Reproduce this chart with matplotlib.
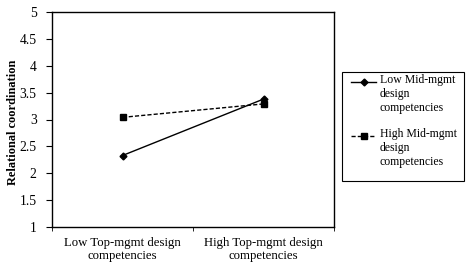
import matplotlib
matplotlib.use("Agg")
import matplotlib.pyplot as plt
from matplotlib.lines import Line2D
from matplotlib.patches import Rectangle

categories = ["Low Top-mgmt design\ncompetencies", "High Top-mgmt design\ncompetencies"]
low_mid = [2.33, 3.38]
high_mid = [3.04, 3.29]
series_labels = ["Low Mid-mgmt\ndesign\ncompetencies", "High Mid-mgmt\ndesign\ncompetencies"]
yticks = [1, 1.5, 2, 2.5, 3, 3.5, 4, 4.5, 5]
y_title = "Relational coordination"

plt.rcParams['font.family'] = ['Liberation Serif']

W, H = 474, 270
fig = plt.figure(figsize=(W/100, H/100), dpi=100)
ax = fig.add_axes([52/W, 1 - 227/H, (334-52)/W, (227-12)/H])

x = list(range(len(categories)))
styles = [dict(linestyle='-', marker='D', markersize=3.5),
          dict(linestyle=(0, (3, 1.5)), marker='s', markersize=4.5)]
for vals, st in zip([low_mid, high_mid], styles):
    ax.plot(x, vals, color='black', linewidth=1.0, **st)

ax.set_xlim(-0.5, 1.5)
ax.set_ylim(1, 5)
ax.set_yticks(yticks)
ax.set_yticklabels([f"{v:g}" for v in yticks], fontsize=9.8)
ax.set_xticks(x)
ax.set_xticklabels(categories, fontsize=9.2, linespacing=1.1)
ax.tick_params(axis='x', which='major', length=0, pad=7)
ax.set_xticks([-0.5, 0.5, 1.5], minor=True)
ax.tick_params(axis='x', which='minor', length=3, direction='out')
ax.tick_params(axis='y', length=4, direction='out', pad=7)
for s in ax.spines.values():
    s.set_linewidth(1.0)

def fx(px):
    return px / W
def fy(py):
    return 1 - py / H

fig.text(fx(13), fy(122), y_title, fontsize=8.9, fontweight='bold', rotation=90,
         ha='center', va='center')

fig.patches.append(Rectangle((fx(342), fy(181)), fx(464) - fx(342), fy(72) - fy(181),
                             transform=fig.transFigure, fill=False, edgecolor='black', linewidth=0.8))
for label, st, yy in zip(series_labels, styles, [82, 136]):
    fig.lines.append(Line2D([fx(351), fx(376)], [fy(yy), fy(yy)], transform=fig.transFigure,
                            color='black', linewidth=1.0, linestyle=st['linestyle']))
    fig.lines.append(Line2D([fx(363.5)], [fy(yy)], transform=fig.transFigure, color='black',
                            marker=st['marker'], markersize=st['markersize'], linestyle='none'))
    fig.text(fx(380), fy(yy - 7.5), label, fontsize=8.5, va='top', ha='left', linespacing=1.22)

fig.savefig("out.png", dpi=100)
